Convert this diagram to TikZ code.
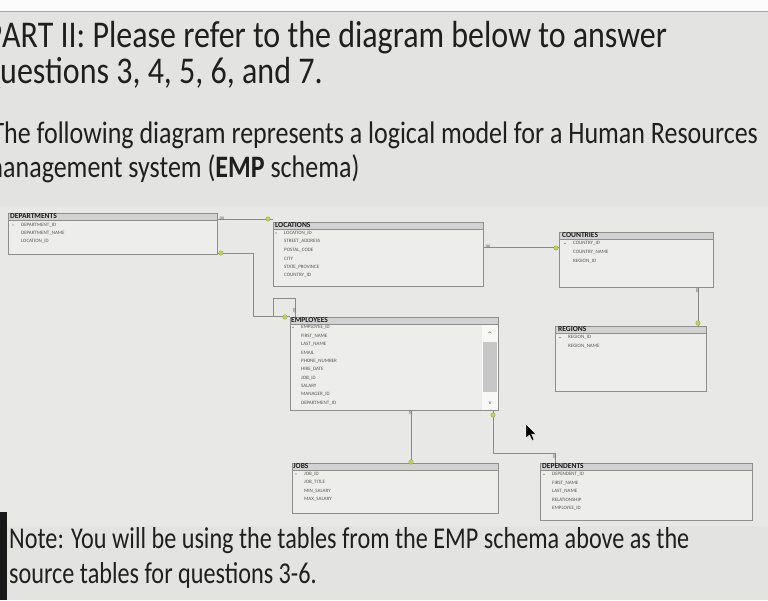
\documentclass[tikz,border=0pt]{standalone}
\usepackage{fontspec}
\usepackage{graphicx}
\setmainfont{Carlito}
\newfontfamily\symfont{DejaVu Sans}
\usetikzlibrary{calc}
\definecolor{bg}{HTML}{E3E3E1}
\definecolor{diagbg}{HTML}{E8E8E7}
\definecolor{tblborder}{HTML}{8E8E8E}
\definecolor{tblhead}{HTML}{D2D2D2}
\definecolor{tblbody}{HTML}{EDEDEC}
\definecolor{fldtext}{HTML}{555555}
\definecolor{connc}{HTML}{8A8A8A}
\definecolor{keyc}{HTML}{C3D25A}
\definecolor{keyd}{HTML}{8FA030}
\definecolor{titletext}{HTML}{1F1F1F}
\newcommand\tblfields[5]{%
  \foreach \f [count=\i from 0] in {#5} {\node[fld] (#1f\i) at (#2,{#3+\i*#4}) {\f};}%
  \node[pkmark] (#1pk) at ({#2-8},#3) {};}
\begin{document}
\begin{tikzpicture}[x=1pt,y=-1pt,
  tbl/.style={draw=tblborder, line width=0.8pt, fill=tblbody, anchor=north west, inner sep=0pt,
    path picture={\fill[tblhead] (path picture bounding box.north west) rectangle ([yshift=-7pt]path picture bounding box.north east);
      \draw[tblborder, line width=0.4pt] ([yshift=-7pt]path picture bounding box.north west) -- ([yshift=-7pt]path picture bounding box.north east);}},
  ttl/.style={anchor=west, inner sep=0pt, font=\bfseries\fontsize{7.5}{8}\selectfont, text=black!90},
  fld/.style={anchor=west, inner sep=0pt, font=\fontsize{5}{5}\selectfont, text=fldtext},
  pkmark/.style={circle, fill=fldtext, inner sep=0pt, minimum size=1.1pt},
  conn/.style={draw=connc, line width=0.9pt},
  keymark/.style={circle, fill=keyc, draw=keyd, line width=0.3pt, inner sep=0pt, minimum size=4.5pt},
  many/.style={inner sep=0pt, font=\symfont\fontsize{7}{7}\selectfont, text=connc!80!black},
  big/.style={anchor=base west, inner sep=0pt, text=titletext}
]
\useasboundingbox (0,0) rectangle (768,600);
\fill[bg] (0,0) rectangle (768,600);
\fill[diagbg] (0,206) rectangle (768,526);
% top strip
\fill[white!90!bg] (0,0) rectangle (768,11);
\draw[gray!70, line width=0.8pt] (0,11) -- (768,11);
% bezel bottom left
\fill[black!90] (0,512) rectangle (7,600);

% ---------- texts ----------
\node[big] (l1) at (2,47) {\scalebox{1}[1.18]{\fontsize{32}{33}\selectfont\llap{P}ART II: Please refer to the diagram below to answer}};
\node[big] (l2) at (0,83) {\scalebox{1}[1.18]{\fontsize{32}{33}\selectfont\llap{Q}uestions 3, 4, 5, 6, and 7.}};
\node[big] (l3) at (4,143) {\scalebox{1}[1.2]{\fontsize{26}{27}\selectfont\llap{T}he following diagram represents a logical model for a Human Resources}};
\node[big] (l4) at (3,177) {\scalebox{1}[1.2]{\fontsize{26}{27}\selectfont\llap{m}anagement system (\textbf{EMP} schema)}};
\node[big] (n1) at (9,548) {\scalebox{1}[1.25]{\fontsize{24.2}{25}\selectfont Note: You will be using the tables from the EMP schema above as the}};
\node[big] (n2) at (9,583) {\scalebox{1}[1.25]{\fontsize{24.2}{25}\selectfont source tables for questions 3-6.}};

% ---------- tables ----------
\node[tbl, minimum width=209pt, minimum height=41pt] (dept) at (8,213) {};
\node[ttl] (deptT) at (10,216.5) {DEPARTMENTS};
\tblfields{dept}{21}{225}{8}{DEPARTMENT\_ID,DEPARTMENT\_NAME,LOCATION\_ID}

\node[tbl, minimum width=210pt, minimum height=64pt] (loc) at (273,222) {};
\node[ttl] (locT) at (275,225.5) {LOCATIONS};
\tblfields{loc}{284}{233}{8.5}{LOCATION\_ID,STREET\_ADDRESS,POSTAL\_CODE,CITY,STATE\_PROVINCE,COUNTRY\_ID}

\node[tbl, minimum width=154pt, minimum height=55pt] (ctry) at (559,232) {};
\node[ttl] (ctryT) at (562,235.5) {COUNTRIES};
\tblfields{ctry}{573}{243.5}{9}{COUNTRY\_ID,COUNTRY\_NAME,REGION\_ID}

\node[tbl, minimum width=151pt, minimum height=65pt] (reg) at (555,326) {};
\node[ttl] (regT) at (558,329.5) {REGIONS};
\tblfields{reg}{568}{337.5}{9}{REGION\_ID,REGION\_NAME}

\node[tbl, minimum width=208pt, minimum height=93pt] (emp) at (290,317) {};
\node[ttl] (empT) at (291,320.5) {EMPLOYEES};
\tblfields{emp}{301}{327.5}{8.4}{EMPLOYEE\_ID,FIRST\_NAME,LAST\_NAME,EMAIL,PHONE\_NUMBER,HIRE\_DATE,JOB\_ID,SALARY,MANAGER\_ID,DEPARTMENT\_ID}
% scrollbar
\fill[white!60!tblbody] (482,324.5) rectangle (497.5,409.5);
\fill[black!22] (482.5,342) rectangle (497,392);
\node[inner sep=0pt, font=\symfont\fontsize{6}{6}\selectfont, text=black!70] (empUp) at (490,334) {\^{}};
\node[inner sep=0pt, font=\symfont\fontsize{5}{5}\selectfont, text=black!70] (empDn) at (490,403) {v};

\node[tbl, minimum width=206pt, minimum height=50pt] (jobs) at (292,463) {};
\node[ttl] (jobsT) at (293,466.5) {JOBS};
\tblfields{jobs}{304}{474}{8.5}{JOB\_ID,JOB\_TITLE,MIN\_SALARY,MAX\_SALARY}

\node[tbl, minimum width=212pt, minimum height=57pt] (depn) at (540,463) {};
\node[ttl] (depnT) at (542,466.5) {DEPENDENTS};
\tblfields{depn}{552}{474.5}{8.5}{DEPENDENT\_ID,FIRST\_NAME,LAST\_NAME,RELATIONSHIP,EMPLOYEE\_ID}

% ---------- connectors ----------
% DEPARTMENTS -> LOCATIONS
\draw[conn] (dept.east |- 0,219) -- (loc.west |- 0,219);
\node[many] (m1) at (222,219) {∞};
\node[keymark] (k1) at (268,219) {};
% DEPARTMENTS -> EMPLOYEES
\coordinate (c2a) at (253,253);
\coordinate (c2b) at (253,316);
\draw[conn] (dept.east |- 0,253) -- (c2a) -- (c2b) -- (emp.west |- 0,316);
\node[keymark] (k2a) at (221,253) {};
\node[keymark] (k2b) at (285,317) {};
% EMPLOYEES self loop
\coordinate (c3a) at (273,298);
\coordinate (c3b) at (295,298);
\draw[conn] (273,316) -- (c3a) -- (c3b) -- (emp.north west -| 295,0);
\node[many, rotate=90] (m3) at (295,311) {∞};
% LOCATIONS -> COUNTRIES
\draw[conn] (loc.east |- 0,247) -- (ctry.west |- 0,247);
\node[many] (m4) at (488,247) {∞};
\node[keymark] (k4) at (556,248) {};
% COUNTRIES -> REGIONS
\draw[conn] (ctry.south -| 698,0) -- (reg.north -| 698,0);
\node[many, rotate=90] (m5) at (698,291) {∞};
\node[keymark] (k5) at (698,323) {};
% EMPLOYEES -> JOBS
\draw[conn] (emp.south -| 411,0) -- (jobs.north -| 411,0);
\node[many, rotate=90] (m6) at (411,413) {∞};
\node[keymark] (k6) at (411,462) {};
% EMPLOYEES -> DEPENDENTS
\coordinate (c7a) at (493,453);
\coordinate (c7b) at (555,453);
\draw[conn] (emp.south -| 493,0) -- (c7a) -- (c7b) -- (depn.north -| 555,0);
\node[keymark] (k7) at (493,415) {};
\node[many, rotate=90] (m7) at (555,457) {∞};

% mouse cursor
\filldraw[black, draw=white, line width=0.4pt] (526,424) -- (526,438) -- (529.5,435) -- (532,440.5) -- (534,439.5) -- (531.5,434) -- (536,434) -- cycle;
\end{tikzpicture}
\end{document}
